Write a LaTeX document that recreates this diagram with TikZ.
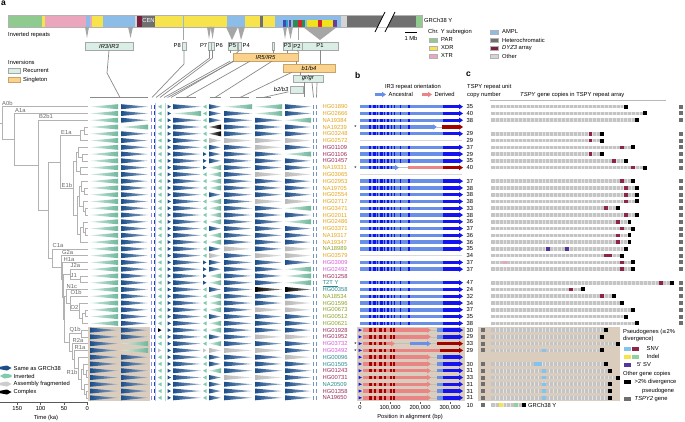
\documentclass[tikz,border=0pt]{standalone}
\usepackage{fontspec}
\setmainfont{Liberation Sans}
\newfontfamily\dejavu{DejaVu Sans}
\definecolor{blueD}{HTML}{1C4E8A}
\definecolor{tealC}{HTML}{7ECBAE}
\definecolor{cPAR}{HTML}{8FCB8F}
\definecolor{cXDR}{HTML}{F7E34B}
\definecolor{cXTR}{HTML}{EBA6BD}
\definecolor{cAMPL}{HTML}{8CBDE8}
\definecolor{cHET}{HTML}{707070}
\definecolor{cDYZ}{HTML}{7A1F3F}
\definecolor{cOTH}{HTML}{D4D4D4}
\definecolor{recF}{HTML}{D9EEE4}
\definecolor{sinF}{HTML}{FAD28C}
\definecolor{sinD}{HTML}{C9A46A}
\definecolor{cGold}{HTML}{E3A51B}
\definecolor{cMar}{HTML}{9C2B58}
\definecolor{cMag}{HTML}{D65AD6}
\definecolor{cOli}{HTML}{8DA22A}
\definecolor{cTea}{HTML}{2B8A8F}
\definecolor{beige}{HTML}{DBCDBE}
\definecolor{ancL}{HTML}{6A8FE6}
\definecolor{ancD}{HTML}{1414F0}
\definecolor{derL}{HTML}{E98585}
\definecolor{derD}{HTML}{A30000}
\definecolor{unitC}{HTML}{C4C4C4}
\definecolor{snvL}{HTML}{86C3EA}
\definecolor{snvD}{HTML}{8E2448}
\definecolor{indY}{HTML}{F4E64A}
\definecolor{indG}{HTML}{8ED2A0}
\definecolor{svP}{HTML}{55369B}
\definecolor{tsG}{HTML}{6E6E6E}
\definecolor{pB}{HTML}{3B4BB5}
\definecolor{pC}{HTML}{29A3C9}
\definecolor{pV}{HTML}{6A3D9A}
\definecolor{pG}{HTML}{2E8B57}
\definecolor{pR}{HTML}{D62728}
\definecolor{pY}{HTML}{F2E21A}
\definecolor{hdrC}{HTML}{8A8A8A}
\newcommand\smallf{\fontsize{5.8}{6.6}\selectfont}
\tikzset{
  treeline/.style={draw=gray!60, line width=0.55pt},
  fanline/.style={draw=hdrC, line width=0.7pt},
  recbox/.style={draw=gray!70, fill=recF, line width=0.4pt, minimum height=8pt, inner sep=0pt},
  sinbox/.style={draw=sinD, fill=sinF, line width=0.4pt, minimum height=8pt, inner sep=0pt},
  irc/.style={fill=gray!70},
  clbl/.style={anchor=south west, text=gray!80!black},
}
\newcommand\btri[4]{%
  \if#1T\shade[left color=tealC!35,right color=tealC!90!black] (#3,#4-2.5)--(#3,#4+2.5)--(#2,#4)--cycle;\fi
  \if#1B\shade[left color=blueD,right color=blueD!45] (#2,#4-2.5)--(#2,#4+2.5)--(#3,#4)--cycle;\fi
  \if#1G\shade[left color=gray!55,right color=gray!25] (#2,#4-2.5)--(#2,#4+2.5)--(#3,#4)--cycle;\fi
  \if#1K\shade[left color=black,right color=black!45] (#2,#4-2.5)--(#2,#4+2.5)--(#3,#4)--cycle;\fi
  \if#1k\shade[left color=black!45,right color=black] (#3,#4-2.5)--(#3,#4+2.5)--(#2,#4)--cycle;\fi}
\newcommand\stri[4]{%
  \if#1T\fill[tealC] (#3,#4-2)--(#3,#4+2)--(#2,#4)--cycle;\fi
  \if#1B\fill[blueD] (#2,#4-2)--(#2,#4+2)--(#3,#4)--cycle;\fi
  \if#1G\fill[gray!45] (#2,#4-2)--(#2,#4+2)--(#3,#4)--cycle;\fi
  \if#1K\fill[black] (#2,#4-2)--(#2,#4+2)--(#3,#4)--cycle;\fi}
\newcommand\clade[5]{\draw[treeline] (#3,#2) -- (#1,#2) -- (#1,#4) -- (#5,#4);}
\newcommand\seg[4]{\fill[#1] (#2,#4-1.7) rectangle (#3,#4+1.7);}
\newcommand\atip[3]{\fill[#1] (#2,#3-2.7) -- (#2+4,#3) -- (#2,#3+2.7) -- cycle;}
\newcommand\satip[1]{\fill[ancD] (358.5,#1-1.6) -- (362,#1) -- (358.5,#1+1.6) -- cycle;}
\newcommand\astr[2]{\foreach \a/\b in {9/11,13/15.5,17/18,20/22.5,24/25,27/28.5,31/32,33.5/35,40/41,48/49.5}{\ifdim\b pt<#2pt \fill[ancD] (360+\a,#1-1.7) rectangle (360+\b,#1+1.7);\fi}}
\newcommand\dstr[2]{\foreach \a/\b in {9/12,14/15.5,19/21.5,24/26,30/31.5,33/35}{\ifdim\b pt<#2pt \fill[derD] (360+\a,#1-1.7) rectangle (360+\b,#1+1.7);\fi}}
\newcommand\gapl[3]{\draw[gray!50,line width=0.4pt] (#1,#3) -- (#2,#3);}
\newcommand\pbrow[2]{%
 \if#1n\seg{ancL}{360}{443}{#2}\astr{#2}{99}\seg{ancD}{443}{459}{#2}\atip{ancD}{459}{#2}\fi
 \if#1l\draw[gray!30,line width=1pt] (360,#2) -- (462,#2);\fi
 \if#1a\seg{ancL}{360}{433}{#2}\astr{#2}{70}\atip{ancL}{433}{#2}\gapl{437}{442}{#2}\seg{derD}{442}{459}{#2}\atip{derD}{459}{#2}\fi
 \if#1b\seg{ancL}{360}{395}{#2}\astr{#2}{34}\atip{ancL}{395}{#2}\gapl{399}{408}{#2}\seg{derL}{408}{443}{#2}\seg{derD}{443}{459}{#2}\atip{derD}{459}{#2}\fi
 \if#1r\satip{#2}\seg{derL}{363}{427}{#2}\dstr{#2}{99}\atip{derL}{427}{#2}\gapl{431}{437}{#2}\seg{ancL}{437}{443}{#2}\seg{ancD}{443}{459}{#2}\atip{ancD}{459}{#2}\fi
 \if#1c\satip{#2}\seg{derL}{363}{391}{#2}\dstr{#2}{30}\atip{derL}{391}{#2}\gapl{395}{410}{#2}\seg{ancL}{410}{427}{#2}\atip{ancL}{427}{#2}\gapl{431}{437}{#2}\seg{derD}{437}{459}{#2}\atip{derD}{459}{#2}\fi
 \if#1d\satip{#2}\seg{derL}{363}{440}{#2}\dstr{#2}{99}\seg{derD}{440}{459}{#2}\atip{derD}{459}{#2}\fi}
\newcommand\tspy[3]{%
  \pgfmathsetmacro\xe{491+3.9*#2}%
  \fill[unitC] (491,#1-1.8) rectangle (\xe,#1+1.8);
  \pgfmathtruncatemacro\nn{#2-1}%
  \foreach \k in {1,...,\nn}{\draw[white!55!unitC,line width=0.35pt] ({491+3.9*\k},#1-1.8) -- ++(0,3.6);}
  \ifnum#3>0 \fill[snvD] ({491+3.9*(#2-4)},#1-1.8) rectangle ++(3.9,3.6);\fi
  \ifnum#3=2 \fill[snvD] ({491+3.9*(#2-5)},#1-1.8) rectangle ++(3.9,3.6);\fi
  \fill[black] ({491+3.9*\nn},#1-2) rectangle ++(3.9,4);}
\newcommand\unitat[3]{\fill[#1] ({491+3.9*#2},#3-1.8) rectangle ++(3.9,3.6);}
\newcommand\ttY{\underline{T2T Y}}
\begin{document}
\begin{tikzpicture}[x=1pt,y=-1pt,every node/.style={inner sep=0pt,font=\smallf}]
\useasboundingbox (0,0) rectangle (685,422);
\fill[white] (0,0) rectangle (685,422);
% panel letters
\node[anchor=north west,font=\fontsize{8.5}{9}\selectfont\bfseries] (la) at (1,1) {a};
\node[anchor=north west,font=\fontsize{8.5}{9}\selectfont\bfseries] (lb) at (355,72) {b};
\node[anchor=north west,font=\fontsize{8.5}{9}\selectfont\bfseries] (lc) at (466,72) {c};
% chromosome bar
\foreach \xa/\xb/\cc in {8/42/cPAR,42/45/cXDR,45/86/cXTR,86/90/cAMPL,90/92/cXTR,92/103/cXDR,103/135/cAMPL,135/137/cOTH,137/142/cDYZ,142/155/cHET,155/183/cXDR,183/184/cAMPL,184/227/cXDR,227/245/cAMPL,245/260/cXDR,260/263/cHET,263/275/cXDR,275/341/cAMPL,341/347/cOTH,347/416/cHET,416/422/cPAR}{\fill[\cc] (\xa,15) rectangle (\xb,27);}
\foreach \xa/\xb/\cc in {283.3/286/pB,286/288.3/pC,289.3/290.7/pV,293.3/298.3/pG,298.3/301.7/pR,301.7/305/pG,306.7/318.3/pY,318.3/321.7/pR,321.7/333.3/pY,333.3/336.7/pV}{\fill[\cc] (\xa,20) rectangle (\xb,27);}
\draw[gray!60,line width=0.3pt] (8,15) rectangle (422,27);
\node[text=white] (cen) at (148.5,21) {CEN};
\fill[white] (377.5,27.3) -- (383.6,14.7) -- (393.6,14.7) -- (387.5,27.3) -- cycle;
\draw[line width=0.7pt] (375,32) -- (385,12);
\draw[line width=0.7pt] (385,32) -- (395,12);
\node[anchor=west] (grch) at (424,20.5) {GRCh38 Y};
\draw[line width=1pt] (405,32.3) -- (417,32.3);
\node (mb) at (411,38) {1 Mb};
% subregion legend
\node[anchor=west] (sublg) at (428,32) {Chr. Y subregion};
\foreach \yy/\cc/\tt in {40/cPAR/PAR,48/cXDR/XDR,56/cXTR/XTR}{\fill[\cc,draw=gray!60,line width=0.3pt] (429,\yy-2.2) rectangle (437,\yy+2.2); \node[anchor=west] at (441,\yy) {\tt};}
\foreach \yy/\cc/\tt in {32/cAMPL/AMPL,40/cHET/Heterochromatic,48/cDYZ/{\textit{DYZ3} array},56/cOTH/Other}{\fill[\cc,draw=gray!60,line width=0.3pt] (490,\yy-2.2) rectangle (498,\yy+2.2); \node[anchor=west] at (502,\yy) {\tt};}
% inverted repeats markers
\node[anchor=west] (irl) at (8,35) {Inverted repeats};
\fill[irc] (85,27) -- (89,27) -- (87,38) -- cycle;
\fill[irc] (128,27) -- (133,27) -- (130.5,38) -- cycle;
\draw[gray!70,line width=0.8pt] (183.5,27) -- (183.5,40);
\fill[irc] (207,27) -- (211,27) -- (209,39) -- cycle;
\fill[irc] (210.5,27) -- (214.5,27) -- (212.5,39) -- cycle;
\fill[irc] (226,27) -- (238,27) -- (232,40) -- cycle;
\fill[irc] (238,27) -- (245,27) -- (241,40) -- cycle;
\fill[irc] (283,27) -- (287,27) -- (285,39) -- cycle;
\fill[irc] (288,27) -- (293,27) -- (290.5,39) -- cycle;
\draw[gray!70,line width=0.8pt] (298.5,27) -- (298.5,40);
\fill[irc] (303,27) -- (337,27) -- (320,40) -- cycle;
% inversion legend
\node[anchor=west] (invl) at (8,62) {Inversions};
\fill[recF,draw=gray!70,line width=0.4pt] (8,68.5) rectangle (20,73.5);
\node[anchor=west] (recl) at (23,71) {Recurrent};
\fill[sinF,draw=sinD,line width=0.4pt] (8,77.5) rectangle (20,82.5);
\node[anchor=west] (sinl) at (23,80) {Singleton};
% inversion boxes
\node[recbox,minimum width=48pt] (ir3) at (109,46) {\textit{IR3/IR3}};
\node[recbox,minimum width=3.5pt] (p8) at (184,46) {};
\node[anchor=east] at (181,46) {P8};
\node[recbox,minimum width=3pt] (p7) at (209.5,46) {};
\node[anchor=east] at (207.3,46) {P7};
\node[recbox,minimum width=3pt] (p6) at (212.5,46) {};
\node[anchor=west] at (215.5,46) {P6};
\node[recbox,minimum width=9pt] (p5) at (232.5,46) {P5};
\node[recbox,minimum width=3pt] (p4) at (239.5,46) {};
\node[anchor=west] at (242.5,46) {P4};
\node[recbox,minimum width=2.5pt] (px) at (273,46) {};
\node[recbox,minimum width=9pt] (p3) at (287.5,46) {P3};
\node[recbox,minimum width=9.5pt] (p2) at (297,46) {P2};
\node[recbox,minimum width=36pt] (p1) at (320,46) {P1};
\node[sinbox,minimum width=65pt] (ir5) at (265.5,57) {\textit{IR5/IR5}};
\node[sinbox,minimum width=52pt] (b14) at (309,68) {\textit{b1/b4}};
\node[recbox,minimum width=30pt,minimum height=7.5pt] (grgr) at (308,78.5) {\textit{gr/gr}};
\node[recbox,minimum width=13pt,minimum height=7pt] (b23) at (296.5,89.5) {};
\node[anchor=east] (b23l) at (288.5,89.5) {\textit{b2/b3}};
% header fan lines (drawn from box anchors to named end points)
\coordinate (t1) at (120,97.5);
\coordinate (k1) at (107,73);
\draw[fanline] (ir3.south) -- (k1) -- (t1);
\draw[fanline] (90,97.5) -- (148,97.5);
\foreach \src/\kx/\ky/\tx in {p8/184/64/152,p7/209.5/58/156,p6/212.5/58/160}{
  \draw[fanline] (\src.south) -- (\kx,\ky) -- (\tx,97.5);}
\draw[fanline] (230,50) -- (230,52.8);
\draw[fanline] (230,61.2) -- (164,97.5);
\draw[fanline] (234,61.2) -- (167.5,97.5);
\draw[fanline] (p4.south) -- (236.5,53);
\draw[fanline] (233,61.2) -- (171,97.5);
\draw[fanline] (250,61.2) -- (186,97.5); \draw[fanline] (176,97.5) -- (196,97.5);
\draw[fanline] (px.south) -- (273,52.8);
\draw[fanline] (272,61.2) -- (215,97.5); \draw[fanline] (210,97.5) -- (221,97.5);
\draw[fanline] (292,72.2) -- (240,97.5); \draw[fanline] (230,97.5) -- (249,97.5);
\draw[fanline] (b23l.south east) -- (263,97.5); \draw[fanline] (256,97.5) -- (271,97.5);
\draw[fanline] (304,82.3) -- (304,97.5);
\draw[fanline] (312,82.3) -- (313.5,97.5);
\draw[fanline] (317,82.3) -- (316.5,97.5);
\draw[fanline] (p1.south) -- (320,63.8);
\draw[fanline] (p3.south) -- (287.5,52.8);
\draw[fanline] (p2.south) -- (299,52.8);
\draw[fanline] (296,61.2) -- (296,63.8);
\draw[fanline] (300,72.2) -- (300,74.7);
% beige backgrounds
\fill[beige] (88,326.7) rectangle (150,401.2);
\fill[beige] (357,326.7) rectangle (465,401.2);
\fill[beige] (478,326.7) rectangle (620,401.2);
% faint vertical lines
\draw[blue!25,line width=0.4pt] (155.6,103) -- (155.6,401);
\draw[tealC!60,line width=0.4pt] (165,103) -- (165,401);
% rows of panel a
\foreach \i/\nm/\lc/\ca/\cb/\cc/\cd/\ce/\cf/\cg/\sA/\sB/\sC in {
0/HG01890/cGold/T/B/B/B/T/T/B/T/B/T,
1/HG02666/cGold/T/B/T/B/B/T/B/T/B/T,
2/NA19384/cGold/T/B/B/B/B/B/T/T/B/T,
3/NA19239/cGold/T/T/B/k/B/B/B/T/B/T,
4/HG03248/cGold/T/B/B/k/B/B/B/T/B/T,
5/HG02572/cGold/T/B/B/G/G/G/G/T/B/T,
6/HG01109/cMar/T/B/B/B/B/G/B/T/B/T,
7/HG01106/cMar/T/B/B/B/B/B/T/T/B/B,
8/HG01457/cMar/T/B/B/B/B/B/B/T/B/B,
9/NA19331/cGold/T/B/B/T/B/B/B/T/B/B,
10/HG03065/cGold/T/B/B/T/B/G/G/T/B/T,
11/HG02953/cGold/T/B/B/T/B/B/B/T/B/T,
12/NA19705/cGold/T/B/B/T/B/B/B/T/B/T,
13/HG02554/cGold/T/B/B/B/B/B/B/T/B/T,
14/HG02717/cGold/T/B/B/T/B/G/G/T/B/T,
15/HG03471/cGold/T/B/B/T/B/B/T/T/B/T,
16/HG02011/cGold/T/B/B/T/B/B/B/T/B/T,
17/HG02486/cGold/T/B/B/T/B/B/T/T/B/T,
18/HG03371/cGold/T/B/B/B/B/B/B/T/B/T,
19/NA19317/cGold/T/B/B/T/B/B/B/T/B/T,
20/NA19347/cGold/T/B/B/T/B/B/B/T/B/T,
21/NA18989/cOli/T/B/B/B/G/B/G/T/B/T,
22/HG03579/cGold/T/B/B/G/B/G/G/T/B/T,
23/HG03009/cMag/T/B/B/B/B/B/B/T/B/B,
24/HG02492/cMag/T/B/B/B/B/B/T/T/B/B,
25/HG01258/cMar/T/B/B/T/B/B/T/T/B/B,
26/\ttY/cTea/T/B/B/T/B/B/T/T/B/B,
27/HG00358/cTea/T/B/B/B/B/K/K/T/B/T,
28/NA18534/cOli/T/B/B/T/B/B/B/T/B/T,
29/HG01596/cOli/T/B/B/T/B/B/G/T/B/T,
30/HG00673/cOli/T/B/B/T/B/G/G/T/B/T,
31/HG00512/cOli/T/B/B/B/B/B/B/T/B/T,
32/HG00621/cOli/T/B/B/T/B/B/B/T/B/T,
33/HG01928/cMar/B/B/B/T/B/B/B/K/B/T,
34/HG01952/cMar/B/B/B/B/B/G/G/T/B/T,
35/HG03732/cMag/B/T/B/T/B/B/B/T/B/T,
36/HG03492/cMag/B/T/B/G/G/G/B/G/B/G,
37/HG00096/cTea/B/B/B/B/B/B/G/T/B/T,
38/HG01505/cTea/B/B/B/B/B/B/B/T/B/T,
39/HG01243/cMar/B/B/B/T/B/B/B/T/B/T,
40/HG00731/cMar/B/B/B/B/G/G/B/T/B/T,
41/NA20509/cTea/B/B/B/B/B/B/B/T/B/T,
42/HG01358/cMar/B/B/B/B/B/B/B/T/B/T,
43/NA19650/cMar/B/B/B/B/B/B/B/T/B/T}{
  \pgfmathsetmacro\yy{106.7+6.77*\i}
  \btri{\ca}{90}{118}{\yy}
  \btri{\cb}{121}{148}{\yy}
  \btri{\cc}{173}{201}{\yy}
  \btri{\cd}{209}{221}{\yy}
  \btri{\ce}{224}{252}{\yy}
  \btri{\cf}{255}{282}{\yy}
  \btri{\cg}{285}{311}{\yy}
  \stri{\sA}{158}{161.5}{\yy}
  \stri{\sB}{167.5}{171}{\yy}
  \stri{\sC}{203}{206.5}{\yy}
  \fill[blue!45] (151,\yy-2) rectangle (152.3,\yy+2);
  \fill[blueD] (153.6,\yy-2) rectangle (154.6,\yy+2);
  \fill[blueD!60] (313,\yy-2) rectangle (314,\yy+2);
  \fill[blueD!60] (316,\yy-2) rectangle (317,\yy+2);
  \node[anchor=base west,text=\lc] at (322.5,\yy+2.1) {\nm};
}
% tree
\draw[treeline] (0,123) -- (2,123);
\clade{84}{127.0}{88}{133.8}{88}
\clade{80}{130.4}{84}{140.6}{88}
\clade{82}{154.1}{88}{160.9}{88}
\clade{78}{147.3}{88}{157.5}{82}
\clade{80}{167.6}{88}{174.4}{88}
\clade{76}{152.4}{78}{171.0}{80}
\clade{84}{187.9}{88}{194.7}{88}
\clade{81}{181.2}{88}{191.3}{84}
\clade{85}{208.2}{88}{215.0}{88}
\clade{83}{201.5}{88}{211.6}{85}
\clade{79}{186.3}{81}{206.6}{83}
\clade{85}{228.6}{88}{235.3}{88}
\clade{83}{221.8}{88}{232.0}{85}
\clade{80}{226.9}{83}{242.1}{88}
\clade{77}{196.5}{79}{234.5}{80}
\clade{73}{161.7}{76}{215.5}{77}
\clade{60}{135.5}{80}{188.6}{73}
\clade{80}{275.9}{88}{282.7}{88}
\clade{70}{269.2}{88}{279.3}{80}
\clade{85}{309.8}{88}{316.6}{88}
\clade{82}{313.2}{85}{323.3}{88}
\clade{79}{303.0}{88}{318.3}{82}
\clade{70}{296.3}{88}{310.7}{79}
\clade{66}{289.5}{88}{303.5}{70}
\clade{81}{330.1}{88}{336.9}{88}
\clade{86}{391.0}{88}{397.8}{88}
\clade{84}{384.3}{88}{394.4}{86}
\clade{86}{370.7}{88}{377.5}{88}
\clade{83}{364.0}{88}{374.1}{86}
\clade{81}{369.1}{83}{389.4}{84}
\clade{78}{357.2}{88}{379.3}{81}
\clade{74}{350.4}{88}{368.3}{78}
\clade{72}{343.7}{88}{359.4}{74}
\clade{69}{333.5}{81}{351.6}{72}
\clade{64.5}{296.5}{66}{342.6}{69}
\clade{63.5}{274.3}{70}{319.6}{64.5}
\clade{62.5}{262.4}{88}{297.0}{63.5}
\clade{61.5}{255.6}{88}{279.7}{62.5}
\clade{52}{248.9}{88}{267.7}{61.5}
\clade{48}{162.1}{60}{258.3}{52}
\clade{38}{120.2}{88}{210.2}{48}
\clade{14}{113.5}{88}{165.2}{38}
\clade{2}{106.7}{88}{139.4}{14}
\foreach \x/\y/\tt in {2/105.6/A0b,15/112.4/A1a,39/119.1/B2b1,61/134.4/E1a,61.5/187.5/E1b,52.5/247.8/C1a,62/254.5/G2a,63.5/261.3/H1a,70.5/268.1/J2a,70.5/278.2/J1,66.5/288.4/N1c,70.5/295.2/O1b,70.5/309.6/O2,69.5/332.4/Q1b,72.5/342.6/R2a,74.5/349.3/R1a}{\node[clbl] at (\x,\y) {\tt};}
\node[anchor=east,text=gray!80!black] (r1b) at (77.5,372) {R1b};
% time axis
\draw[gray!70!black,line width=0.4pt] (0,402.5) -- (88,402.5);
\foreach \x/\tt in {17.3/150,40.6/100,64/50,87.3/0}{\draw[gray!70!black,line width=0.4pt] (\x,402.5) -- (\x,404.5); \node at (\x,409) {\tt};}
\node (tka) at (46,418) {Time (ka)};
% legend bottom-left
\fill[blueD] (0,366.8) -- (7,365.5) -- (11.5,368) -- (7,370.5) -- (0,369.2) -- cycle;
\node[anchor=west] (l1) at (13.5,368) {Same as GRCh38};
\fill[tealC] (11.5,374.8) -- (4.5,373.5) -- (0,376) -- (4.5,378.5) -- (11.5,377.2) -- cycle;
\node[anchor=west] (l2) at (13.5,376) {Inverted};
\fill[gray!40] (0,382.8) -- (7,381.5) -- (11.5,384) -- (7,386.5) -- (0,385.2) -- cycle;
\node[anchor=west] (l3) at (13.5,384) {Assembly fragmented};
\fill[black] (0,390.8) -- (7,389.5) -- (11.5,392) -- (7,394.5) -- (0,393.2) -- cycle;
\node[anchor=west] (l4) at (13.5,392) {Complex};
% panel b
\node (bt) at (413,87.5) {IR3 repeat orientation};
\seg{ancL}{375}{382}{94.5}\atip{ancL}{382}{94.5}
\node[anchor=west] (anc) at (388.5,94.5) {Ancestral};
\seg{derL}{422}{428}{94.5}\atip{derL}{428}{94.5}
\node[anchor=west] (der) at (434.5,94.5) {Derived};
\foreach \i/\ty in {0/n,1/n,2/n,3/a,4/n,5/l,6/n,7/n,8/n,9/b,10/l,11/n,12/n,13/n,14/n,15/n,16/n,17/n,18/n,19/n,20/n,21/n,22/l,23/n,24/n,26/n,27/n,28/n,29/n,30/n,31/n,32/n,33/r,34/r,35/c,36/d,37/r,38/r,39/r,40/r,41/r,42/r,43/r}{
  \pgfmathsetmacro\yy{106.7+6.77*\i}
  \pbrow{\ty}{\yy}}
\foreach \i in {3,9,35,36}{\pgfmathsetmacro\yy{106.7+6.77*\i}\node at (355.5,\yy+0.6) {*};}
\foreach \x/\tt in {360/0,390/{100,000},420/{200,000},450/{300,000}}{\draw[gray!70!black,line width=0.4pt] (\x,401.5) -- (\x,403.5); \node at (\x,408) {\tt};}
\node (pos) at (410,416.5) {Position in alignment (bp)};
% panel c
\node[anchor=west] (ct1) at (467,87.5) {TSPY repeat unit};
\node[anchor=west] (ct2) at (467,95) {copy number};
\node[anchor=west] (ct3) at (520,95) {\textit{TSPY} gene copies in TSPY repeat array};
\draw[gray!55,line width=0.5pt] (490,101.5) -- (490,99.8) -- (665,99.8) -- (665,101.5);
\foreach \i/\n/\m in {0/35/0,1/40/0,2/38/0,4/29/1,5/29/1,6/37/1,7/29/1,8/35/1,9/40/1,11/37/1,12/38/1,13/38/1,14/38/1,15/33/1,16/38/1,17/36/1,18/37/1,19/36/1,20/36/1,21/35/0,22/34/2,23/37/1,24/37/1,26/47/1,27/24/1,28/32/1,29/34/0,30/37/0,31/35/0,32/38/0,33/30/0,34/29/0,35/33/0,36/29/0,38/30/0,39/31/0,40/33/0,41/31/0,42/31/0,43/31/0}{
  \pgfmathsetmacro\yy{106.7+6.77*\i}
  \tspy{\yy}{\n}{\m}
  \node[anchor=base west] at (466.5,\yy+2.1) {\n};
  \ifnum\i<33 \fill[tsG] (678.5,\yy-2) rectangle ++(4,4); \else \fill[tsG] (480.5,\yy-2) rectangle ++(4,4); \fi}
\unitat{svP}{14}{248.9}\unitat{svP}{19}{248.9}
\unitat{cXTR}{3}{262.4}
\unitat{snvL}{13}{350.4}
\unitat{snvL}{11}{364.0}\unitat{snvL}{12}{364.0}
\foreach \yy in {370.7,377.5,384.3,391.0,397.8}{\unitat{snvL}{13}{\yy}}
% GRCh38 row
\node[anchor=base west] (g10) at (466.5,407.1) {10};
\fill[tsG] (480.5,403) rectangle ++(4,4);
\fill[unitC] (491,403.2) rectangle (526.1,406.8);
\foreach \k in {1,...,8}{\draw[white!55!unitC,line width=0.35pt] ({491+3.9*\k},403.2) -- ++(0,3.6);}
\unitat{indY}{2}{405}\unitat{indG}{6}{405}
\fill[black] ({491+3.9*8},403) rectangle ++(3.9,4);
\node[anchor=base west] (gy) at (528,407.1) {GRCh38 Y};
% panel c legend
\node[anchor=west] (pl1) at (623,331.7) {Pseudogenes ({\dejavu\fontsize{5.3}{6}\selectfont ≤}2\%};
\node[anchor=west] (pl2) at (623,339.3) {divergence)};
\fill[snvL] (623.5,346.7) rectangle ++(7,4); \fill[snvD] (632,346.7) rectangle ++(7,4);
\node[anchor=west] (snv) at (646.5,348.7) {SNV};
\fill[indY] (623.5,354.7) rectangle ++(7,4); \fill[indG] (632,354.7) rectangle ++(7,4);
\node[anchor=west] (ind) at (646.5,356.7) {Indel};
\fill[svP] (623.5,363) rectangle ++(7,4);
\node[anchor=west] (sv) at (637,365) {5\textquotesingle{} SV};
\node[anchor=west] (og) at (623,374) {Other gene copies};
\fill[black] (623.5,379.7) rectangle ++(7,4);
\node[anchor=west] (dv) at (634.5,381.7) {>2\% divergence};
\node[anchor=west] (ps) at (642,390.5) {pseudogene};
\fill[tsG] (623.5,397.3) rectangle ++(7,4);
\node[anchor=west] (t2) at (634.5,399.3) {\textit{TSPY2} gene};
\end{tikzpicture}
\end{document}
